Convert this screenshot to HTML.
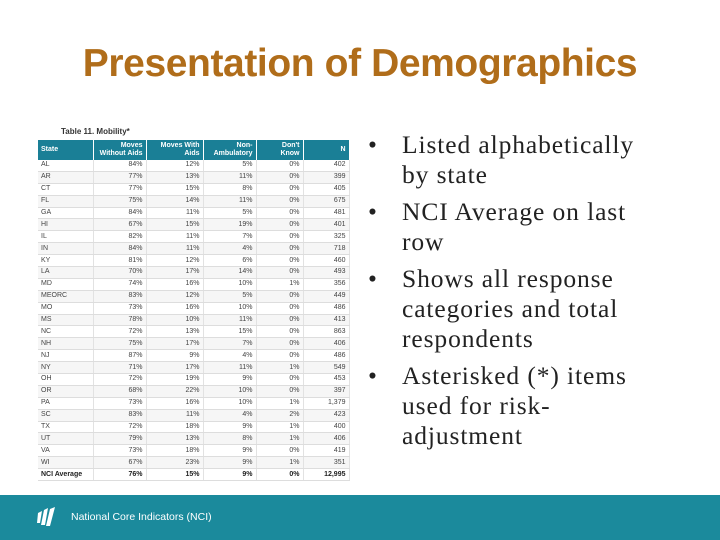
<!DOCTYPE html>
<html><head><meta charset="utf-8">
<style>
html,body{margin:0;padding:0}
body{width:720px;height:540px;position:relative;background:#fff;overflow:hidden;font-family:"Liberation Sans",sans-serif}
#title{position:absolute;left:0;width:720px;top:42px;text-align:center;font-weight:bold;font-size:39px;color:#b06d1a;letter-spacing:-0.4px}
#tcap{position:absolute;left:61px;top:127px;font-size:8px;font-weight:bold;color:#333}
#tbl{position:absolute;left:38px;top:140px;width:311px;border-collapse:collapse;font-size:7px;color:#444;table-layout:fixed}
#tbl th{background:#1a7f96;color:#fff;font-weight:bold;height:20px;padding:0 3px;text-align:right;line-height:8px;border-right:1px solid #fff;vertical-align:middle}
#tbl th:first-child{text-align:left}
#tbl td{height:10.9px;padding:0 3px;text-align:right;border-bottom:1px solid #ddd;border-right:1px solid #e2e2e2;line-height:10px}
#tbl td:first-child{text-align:left}
#tbl tr.alt td{background:#f6f6f6}
#tbl tr.avg td{font-weight:bold;color:#222}
#bullets{position:absolute;left:368px;top:130px;width:340px;font-family:"Liberation Serif",serif;font-size:25.5px;letter-spacing:0.9px;color:#222;line-height:30px;white-space:nowrap}
.b{position:relative;padding-left:34px;margin-bottom:7px}
.b span.dot{position:absolute;left:0;top:0}
#footer{position:absolute;left:0;top:495px;width:720px;height:45px;background:#1b8a9c}
#ftext{position:absolute;left:71px;top:16px;color:#fff;font-size:10.5px}
</style></head><body>
<div id="title">Presentation of Demographics</div>
<div id="tcap">Table 11. Mobility*</div>
<table id="tbl">
<colgroup><col style="width:55px"><col style="width:53px"><col style="width:57px"><col style="width:53px"><col style="width:47px"><col style="width:46px"></colgroup>
<thead><tr>
<th>State</th>
<th>Moves<br>Without Aids</th>
<th>Moves With<br>Aids</th>
<th>Non-<br>Ambulatory</th>
<th>Don't<br>Know</th>
<th>N</th>
</tr></thead>
<tbody id="tb"></tbody>
</table>
<div id="bullets">
<div class="b"><span class="dot">•</span>Listed alphabetically<br>by state</div>
<div class="b"><span class="dot">•</span>NCI Average on last<br>row</div>
<div class="b"><span class="dot">•</span>Shows all response<br>categories and total<br>respondents</div>
<div class="b"><span class="dot">•</span>Asterisked (*) items<br>used for risk-<br>adjustment</div>
</div>
<div id="footer">
<svg style="position:absolute;left:35px;top:12px" width="22" height="20">
<path d="M3 6 L7 4 L5 16 L2 16Z M9 3 L13 1 L10 18 L6 18Z M15 2 L20 0 L15 19 L11 19Z" fill="#fff"/></svg>
<div id="ftext">National Core Indicators (NCI)</div>
</div>
<script>
const states=["AL","AR","CT","FL","GA","HI","IL","IN","KY","LA","MD","MEORC","MO","MS","NC","NH","NJ","NY","OH","OR","PA","SC","TX","UT","VA","WI","NCI Average"];
const withoutAids=[84,77,77,75,84,67,82,84,81,70,74,83,73,78,72,75,87,71,72,68,73,83,72,79,73,67,76];
const withAids=[12,13,15,14,11,15,11,11,12,17,16,12,16,10,13,17,9,17,19,22,16,11,18,13,18,23,15];
const nonAmb=[5,11,8,11,5,19,7,4,6,14,10,5,10,11,15,7,4,11,9,10,10,4,9,8,9,9,9];
const dontKnow=[0,0,0,0,0,0,0,0,0,0,1,0,0,0,0,0,0,1,0,0,1,2,1,1,0,1,0];
const nVals=["402","399","405","675","481","401","325","718","460","493","356","449","486","413","863","406","486","549","453","397","1,379","423","400","406","419","351","12,995"];
const tb=document.getElementById('tb');
for(let i=0;i<states.length;i++){
  const tr=document.createElement('tr');
  
  
  if(i%2==1) tr.className='alt';
  if(i==states.length-1) tr.className='avg';
  const vals=[states[i],withoutAids[i]+'%',withAids[i]+'%',nonAmb[i]+'%',dontKnow[i]+'%',nVals[i]];
  for(const v of vals){const td=document.createElement('td');td.textContent=v;
    
    
    tr.appendChild(td);}
  tb.appendChild(tr);
}
</script>
</body></html>
